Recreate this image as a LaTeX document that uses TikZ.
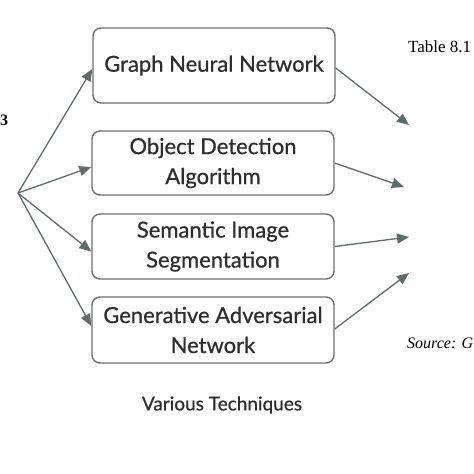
\documentclass[tikz,border=0pt]{standalone}
\usepackage{fontspec}
\setmainfont{Lato}[FakeBold=0.6]
\newfontfamily\serifx{Liberation Serif}
\usetikzlibrary{arrows.meta}
\definecolor{boxc}{HTML}{6E6E6E}
\definecolor{txtc}{HTML}{2E2E2E}
\definecolor{arrc}{HTML}{5E6C6C}
\tikzset{
  tech/.style={draw=boxc, line width=1.4pt, rounded corners=8pt, fill=white,
    minimum width=242pt, align=center, text=txtc, inner sep=0pt,
    font=\fontsize{22}{30}\selectfont},
  arr/.style={draw=arrc, line width=1.3pt,
    -{Triangle[length=12pt,width=10pt]}},
  note/.style={text=black, inner sep=0pt, font=\serifx\fontsize{17}{20}\selectfont}
}
\begin{document}
\begin{tikzpicture}[x=1pt,y=-1pt]
\useasboundingbox (0,0) rectangle (474,474);
\clip (0,0) rectangle (474,474);
\fill[white] (0,0) rectangle (474,474);
\node[tech, minimum height=75pt] (b1) at (214,65.5) {Graph Neural Network};
\node[tech, minimum height=64pt] (b2) at (213,163) {Object Detection\\Algorithm};
\node[tech, minimum height=65pt] (b3) at (213,246.5) {Semantic Image\\Segmentation};
\node[tech, minimum height=66pt] (b4) at (213,330) {Generative Adversarial\\Network};
\node[text=txtc, inner sep=0pt, font=\fontsize{19}{22}\selectfont] (cap) at (222,405) {Various Techniques};
\coordinate (src) at (18,193);
\draw[arr] (src) -- ([yshift=-3.5pt]b1.west);
\draw[arr] (src) -- ([yshift=-4pt]b2.west);
\draw[arr] (src) -- ([yshift=-5pt]b3.west);
\draw[arr] (src) -- ([yshift=4pt]b4.west);
\coordinate (t1) at (409,125);
\coordinate (t2) at (404,187);
\coordinate (t3) at (409,237);
\coordinate (t4) at (409,273);
\draw[arr] ([yshift=-2.5pt]b1.east) -- (t1);
\draw[arr] (b2.east) -- (t2);
\draw[arr] (b3.east) -- (t3);
\draw[arr] ([yshift=1pt]b4.east) -- (t4);
\node[note, anchor=base west] (tab) at (408,52) {Table 8.1};
\node[note, anchor=base west, font=\serifx\itshape\fontsize{16}{20}\selectfont] (src2) at (407,348) {Source: G};
\node[note, anchor=base west, font=\serifx\bfseries\fontsize{16}{20}\selectfont] (num) at (0,125) {3};
\end{tikzpicture}
\end{document}
